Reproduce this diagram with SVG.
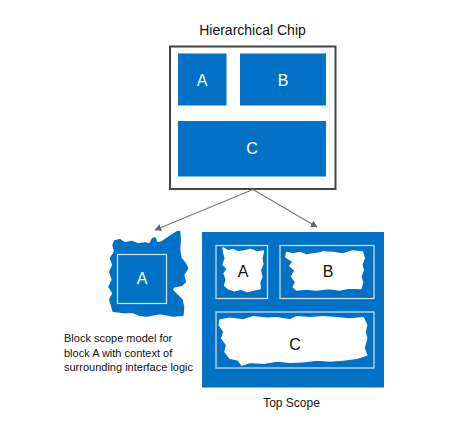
<svg xmlns="http://www.w3.org/2000/svg" width="474" height="440" viewBox="0 0 474 440">
<style>
.t{font-family:"Liberation Sans",Arial,sans-serif}
.blk{fill:#0071c5}
.sm{stroke:#0071c5;stroke-width:2;stroke-linejoin:round}
.wl{fill:#fff;font-size:16px;text-anchor:middle;font-family:"Liberation Sans",Arial,sans-serif}
.bl{fill:#111;font-size:16px;text-anchor:middle;font-family:"Liberation Sans",Arial,sans-serif}
.ol{fill:none;stroke:#d6e6f5;stroke-width:1.2}
.blob{fill:#fff;stroke:#fff;stroke-width:1.5;stroke-linejoin:round}
.conn{stroke:#777;stroke-width:1.1;fill:none;marker-end:url(#ah)}
</style>
<defs>
<marker id="ah" viewBox="0 0 10 10" refX="9" refY="5" markerWidth="7" markerHeight="7" orient="auto" markerUnits="userSpaceOnUse">
<path d="M0,0 L10,5 L0,10 z" fill="#666"/>
</marker>
</defs>
<rect width="474" height="440" fill="#fff"/>

<g id="chip">
<text class="t" x="252.5" y="35" font-size="14" text-anchor="middle" fill="#111">Hierarchical Chip</text>
<rect x="170" y="46.5" width="165.5" height="142.5" fill="#fff" stroke="#444" stroke-width="2"/>
</g>
<g id="chipA">
<rect class="blk" x="178" y="53.5" width="48.5" height="52"/>
<text class="wl" x="202" y="85.5">A</text>
</g>
<g id="chipB">
<rect class="blk" x="240" y="53.5" width="86" height="52"/>
<text class="wl" x="283" y="85.5">B</text>
</g>
<g id="chipC">
<rect class="blk" x="178" y="121" width="148" height="55.5"/>
<text class="wl" x="252" y="154">C</text>
</g>

<g id="connectors">
<path class="conn" d="M253,189.5 L155,230"/>
<path class="conn" d="M253,189.5 L317,227"/>
</g>

<g id="blockScope">
<path class="blk sm" d="M115,241 L120,240 L125,243.3 L131.7,241.7 L138.3,244.3 L145,243.3 L150,244.3 L152.7,239 L155,238.3 L156.7,243.3 L161.7,242.3 L170,236.7 L176.7,232.3 L179.3,231.7 L180,240 L179.3,250 L180.7,258.3 L185,263.3 L187.3,268.3 L183.3,275 L185,281.7 L181.7,285 L173.3,286.7 L171.7,290 L176.7,295 L181.7,300 L183.3,306.7 L182.7,315 L173.3,315.7 L160,313.3 L146.7,315.7 L140,315 L133.3,312.3 L123.3,312.3 L113.3,311 L111.7,305 L110,300 L113.3,293.3 L109.3,286.7 L112.7,280 L110,271.7 L113.3,265 L110.7,258.3 L115,251.7 L113.3,245 Z"/>
<rect class="ol" x="117.5" y="254.5" width="49" height="49"/>
<text class="wl" x="142" y="284">A</text>
</g>
<g id="caption">
<text class="t" font-size="11" fill="#111"><tspan x="64" y="342">Block scope model for</tspan><tspan x="64" y="356.5">block A with context of</tspan><tspan x="64" y="371">surrounding interface logic</tspan></text>
</g>

<g id="topScope">
<rect class="blk" x="202" y="232" width="182" height="155.5"/>
<text class="t" x="291.5" y="407" font-size="12" text-anchor="middle" fill="#111">Top Scope</text>
</g>
<g id="topA">
<rect class="ol" x="216" y="245.5" width="51.5" height="53"/>
<path class="blob" d="M223.1,248 L228,251 L232.8,249.5 L237.6,251.9 L244,251 L250.5,249.5 L257,251.9 L263.4,251 L261.8,258.5 L262.8,264.5 L260.2,270.5 L261.8,276.5 L259.6,282.5 L260.2,288.5 L253.8,290 L247.3,291.5 L240.9,289.1 L234.4,290.9 L228,288.5 L224.7,285.5 L226.3,279.5 L224.1,273.5 L227.3,269 L223.1,264.5 L225.4,258.5 L224.1,254 Z"/>
<text class="bl" x="243" y="277">A</text>
</g>
<g id="topB">
<rect class="ol" x="280" y="245.5" width="94" height="53"/>
<path class="blob" d="M286.6,252.5 L293.2,254 L299.8,252.5 L306.4,254.9 L319.6,253.1 L322.9,251.9 L332.8,252.5 L342.7,254 L352.6,251 L362.5,251.9 L364.2,258.5 L361.8,264.5 L363.2,270.5 L360.9,276.5 L362.5,282.5 L360.9,288.5 L349.3,287.9 L339.4,290 L329.5,288.5 L316.3,290 L306.4,289.1 L296.5,290 L293.2,287 L295.8,282.5 L291.6,276.5 L294.9,270.5 L289.9,266 L293.2,261.5 L285.9,257 Z"/>
<text class="bl" x="328" y="277">B</text>
</g>
<g id="topC">
<rect class="ol" x="216" y="312" width="158" height="56"/>
<path class="blob" d="M220,320 L230,318.3 L243.3,320 L253.3,316.7 L266.7,318.3 L276.7,317.7 L290,320 L296.7,316.7 L310,317.7 L323.3,316.7 L336.7,317.7 L350,319 L363.3,317.7 L366.7,325 L365,331.7 L366.7,338.3 L364,348.3 L366.7,355 L356.7,358.3 L343.3,360 L330,361 L316.7,360 L303.3,361.7 L290,362.3 L276.7,361 L263.3,363.3 L250,362.3 L241.7,365 L238.3,360 L230,358.3 L225,351.7 L226.7,345 L221.7,338.3 L224,331.7 L219.3,325 Z"/>
<text class="bl" x="295" y="350">C</text>
</g>
</svg>
